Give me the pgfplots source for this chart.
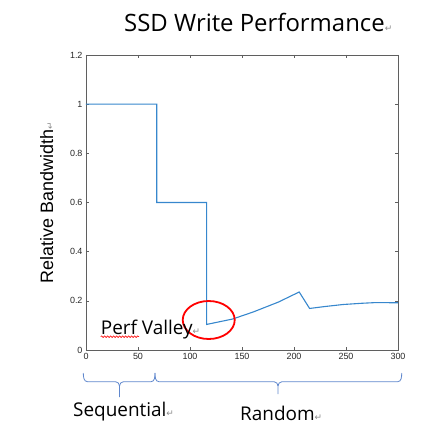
\documentclass[border=0pt]{standalone}
\usepackage{pgfplots}
\pgfplotsset{compat=1.18}
\usepackage{fontspec}
\setmainfont{Liberation Sans}
\newfontfamily\ofont{Open Sans}
\newfontfamily\djv{DejaVu Sans}
\usetikzlibrary{decorations.pathmorphing}
\definecolor{lineblue}{RGB}{55,135,205}
\definecolor{braceblue}{RGB}{95,135,205}
\definecolor{axgray}{RGB}{95,95,95}
\definecolor{lblgray}{RGB}{40,40,40}
\newcommand\parmark{{\djv\fontsize{9}{9}\selectfont\color{gray!90}↵}}
\begin{document}
\begin{tikzpicture}
\useasboundingbox (-86bp,-89bp) rectangle (358bp,350bp);
\begin{axis}[
  scale only axis, width=312bp, height=295bp,
  at={(0bp,0bp)}, anchor=south west,
  xmin=0, xmax=300, ymin=0, ymax=1.2,
  xtick={0,50,...,300},
  ytick={0,0.2,0.4,0.6,0.8,1,1.2},
  tick align=inside,
  major tick length=3bp,
  axis line style={axgray, line width=0.7bp},
  tick style={axgray, line width=0.6bp},
  tick label style={font=\fontsize{9}{10}\selectfont, text=lblgray},
  /pgf/number format/assume math mode=true,
  ylabel={Relative Bandwidth\parmark},
  ylabel style={at={(axis description cs:-0.105,0.5)}, anchor=base, font=\fontsize{18}{20}\selectfont},
  clip=false,
]
\addplot[lineblue, line width=1.1bp, mark=none] coordinates {
  (0,1) (68,1) (68,0.6) (116,0.6) (116,0.104)
  (141,0.126) (161,0.155) (185,0.195) (205,0.236)
  (215,0.169) (230,0.177) (247,0.185) (265,0.190) (279,0.193) (300,0.192)
};
\draw[red, line width=1.8bp] (axis cs:118,0.122) ellipse [x radius=26bp, y radius=19bp];
\end{axis}
% annotations
\node[anchor=base west, inner sep=0] at (38bp,318bp) {\ofont\fontsize{24}{28}\selectfont SSD Write Performance\parmark};
\node[anchor=base west, inner sep=0] at (14.7bp,16bp) {\ofont\fontsize{19}{22}\selectfont Perf Valley\parmark};
\draw[red, line width=0.6bp, decorate, decoration={snake, amplitude=0.8bp, segment length=3bp}] (14.7bp,13.3bp) -- (53bp,13.3bp);
\node[anchor=base west, inner sep=0] at (-13bp,-66.7bp) {\ofont\fontsize{19}{22}\selectfont Sequential\parmark};
\node[anchor=base west, inner sep=0] at (154bp,-70.7bp) {\ofont\fontsize{19}{22}\selectfont Random\parmark};
% braces
\draw[braceblue, line width=0.8bp] (-2.7bp,-23bp) to[out=-90,in=180] (1.5bp,-31.7bp) -- (29.5bp,-31.7bp) to[out=0,in=90] (33.5bp,-36bp) -- (33.5bp,-47bp);
\draw[braceblue, line width=0.8bp] (33.5bp,-36bp) to[out=90,in=180] (37.5bp,-31.7bp) -- (65bp,-31.7bp) to[out=0,in=-90] (69bp,-23bp);
\draw[braceblue, line width=0.8bp] (69bp,-23bp) to[out=-90,in=180] (73bp,-31.7bp) -- (188bp,-31.7bp) to[out=0,in=90] (192bp,-36bp) -- (192bp,-44bp);
\draw[braceblue, line width=0.8bp] (192bp,-36bp) to[out=90,in=180] (196bp,-31.7bp) -- (311.7bp,-31.7bp) to[out=0,in=-90] (315.7bp,-23bp);
\end{tikzpicture}
\end{document}
